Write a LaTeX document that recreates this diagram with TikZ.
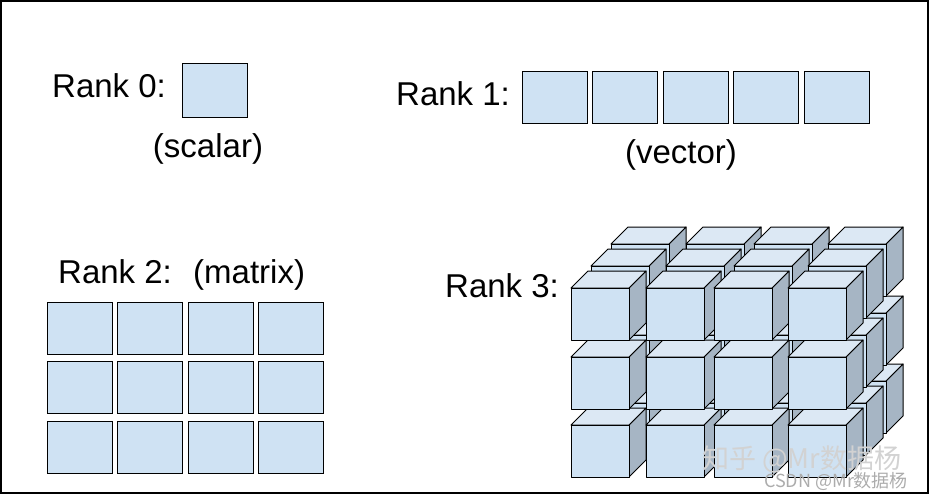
\documentclass[tikz,border=0pt]{standalone}
\usepackage{fontspec}
\setmainfont{Liberation Sans}
\newfontfamily\cjk{Noto Sans CJK SC}
\definecolor{cellblue}{RGB}{207,226,243}
\definecolor{cubetop}{RGB}{220,232,244}
\definecolor{cubeside}{RGB}{166,181,196}
\newcommand{\tensorcube}[2]{%
  \filldraw[face,fill=cubeside] (#1+58,#2) -- ++(17,-17) -- ++(0,52) -- ++(-17,17) -- cycle;
  \filldraw[face,fill=cubetop] (#1,#2) -- ++(17,-17) -- ++(58,0) -- ++(-17,17) -- cycle;
  \filldraw[face,fill=cellblue] (#1,#2) rectangle ++(58,52);}
\begin{document}
\begin{tikzpicture}[x=1pt,y=-1pt,
  cell/.style={draw,fill=cellblue,line width=1pt,minimum width=65,minimum height=52,inner sep=0},
  txt/.style={font=\fontsize{33}{38}\selectfont,inner sep=0,anchor=base west},
  face/.style={draw,line width=1pt,line join=round}]
\useasboundingbox (0,0) rectangle (931,496);
\draw[line width=1.5pt] (1,1) rectangle (928,493);
\node[txt] (r0) at (52,97) {Rank 0:};
\node[cell,minimum height=54] (s) at (215,90) {};
\node[txt,anchor=base] (scalar) at (208,157) {(scalar)};
\node[txt] (r1) at (396,105) {Rank 1:};
\foreach \i in {0,...,4}
  \node[cell] (v\i) at (554.5+70.5*\i,97) {};
\node[txt,anchor=base] (vector) at (681,163) {(vector)};
\node[txt] (r2) at (58,283) {Rank 2:};
\node[txt] (matrix) at (193,283) {(matrix)};
\foreach \r in {0,1,2}
  \foreach \c in {0,...,3}
    \node[cell] (m\r\c) at (79.5+70.5*\c,328+59.5*\r) {};
\node[txt] (r3) at (445,297) {Rank 3:};
\foreach \d in {2,1,0}
  \foreach \cy in {425,357,288}
    \foreach \cx in {571,646,714,788}
      \tensorcube{\cx+20*\d}{\cy-22*\d};
\node[inner sep=0,anchor=base west,font=\cjk\fontsize{27}{30}\selectfont,gray!35] (wm) at (702,468) {知乎 @Mr数据杨};
\node[inner sep=0,anchor=base west,font=\cjk\fontsize{18}{22}\selectfont,gray!65] (csdn) at (764,487) {CSDN @Mr数据杨};
\end{tikzpicture}
\end{document}
